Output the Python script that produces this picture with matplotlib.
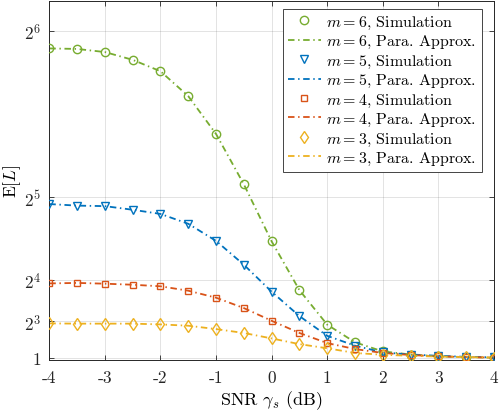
import matplotlib
matplotlib.use("Agg")
import matplotlib.pyplot as plt

plt.rcParams['font.family'] = 'serif'
plt.rcParams['font.serif'] = ['cmr10', 'DejaVu Serif']
plt.rcParams['mathtext.fontset'] = 'cm'
plt.rcParams['axes.unicode_minus'] = False
plt.rcParams['axes.formatter.use_mathtext'] = True

snr = [-4, -3.5, -3, -2.5, -2, -1.5, -1, -0.5, 0, 0.5, 1, 1.5, 2, 2.5, 3, 3.5, 4]

m6_sim = [60.6, 60.5, 59.9, 58.4, 56.2, 51.4, 44.1, 34.4, 23.4, 14.0, 7.35, 3.95, 2.2, 1.6, 1.25, 1.1, 1.0]
m6_apx = [60.6, 60.5, 59.9, 58.4, 56.2, 51.4, 44.1, 34.4, 23.4, 14.0, 7.35, 3.95, 2.2, 1.6, 1.25, 1.1, 1.0]
m5_sim = [30.6, 30.3, 30.2, 29.5, 28.7, 26.8, 23.5, 18.9, 13.7, 9.0, 5.2, 3.3, 2.0, 1.6, 1.35, 1.15, 1.05]
m5_apx = [30.6, 30.3, 30.2, 29.5, 28.7, 26.8, 23.5, 18.9, 13.7, 9.0, 5.2, 3.3, 2.0, 1.6, 1.35, 1.15, 1.05]
m4_sim = [15.3, 15.4, 15.25, 15.05, 14.75, 13.9, 12.55, 10.55, 8.1, 5.75, 3.8, 2.65, 1.9, 1.5, 1.25, 1.1, 1.0]
m4_apx = [15.3, 15.4, 15.25, 15.05, 14.75, 13.9, 12.55, 10.55, 8.1, 5.75, 3.8, 2.65, 1.9, 1.5, 1.25, 1.1, 1.0]
m3_sim = [7.6, 7.55, 7.55, 7.55, 7.4, 7.15, 6.5, 5.75, 4.7, 3.6, 2.8, 1.9, 1.55, 1.35, 1.2, 1.1, 1.0]
m3_apx = [7.6, 7.55, 7.55, 7.55, 7.4, 7.15, 6.5, 5.75, 4.7, 3.6, 2.8, 1.9, 1.55, 1.35, 1.2, 1.1, 1.0]

m_values = [6, 5, 4, 3]
colors = ['#77AC30', '#0072BD', '#D95319', '#EDB120']
markers = ['o', 'v', 's', 'd']
msizes = [6, 6, 4.2, 6]

x_ticks = [-4, -3, -2, -1, 0, 1, 2, 3, 4]
x_ticklabels = ['-4', '-3', '-2', '-1', '0', '1', '2', '3', '4']
y_ticks = [1, 8, 16, 32, 64]
y_ticklabels = ['1', r'$2^3$', r'$2^4$', r'$2^5$', r'$2^6$']

fig = plt.figure(figsize=(5, 4.14), dpi=100)
ax = fig.add_axes([0.0986, 0.128, 0.8894, 0.8679])

sims = [m6_sim, m5_sim, m4_sim, m3_sim]
apxs = [m6_apx, m5_apx, m4_apx, m3_apx]
for m, c, mk, ms, s, a in zip(m_values, colors, markers, msizes, sims, apxs):
    ax.plot(snr, s, linestyle='none', marker=mk, markersize=ms, markerfacecolor='none',
            markeredgecolor=c, markeredgewidth=1.0, label=rf'$m={m}$, Simulation', zorder=3)
    ax.plot(snr, a, color=c, linewidth=1.3, dashes=(3.6, 2.0, 0.8, 2.0),
            label=rf'$m={m}$, Para. Approx.', zorder=2)

ax.set_xlim(-4, 4)
ax.set_ylim(0.54, 69.8)
ax.set_xticks(x_ticks)
ax.set_xticklabels(x_ticklabels)
ax.set_yticks(y_ticks)
ax.set_yticklabels(y_ticklabels)
ax.tick_params(direction='in', top=True, right=True, length=3.5, width=0.6,
               colors='#262626', labelsize=12.5, pad=7)
ax.tick_params(axis='y', pad=6)
ax.grid(True, color='#262626', alpha=0.15, linewidth=0.6)
for sp in ax.spines.values():
    sp.set_color('#262626')
    sp.set_linewidth(0.7)

ax.set_xlabel(r'SNR $\gamma_s$ (dB)', fontsize=13, labelpad=2)
ax.set_ylabel(r'$\mathrm{E}[L]$', fontsize=12.5)
ax.yaxis.set_label_coords(-0.059, 0.5)

leg = ax.legend(loc='upper left', bbox_to_anchor=(0.525, 0.518, 0.447, 0.459),
                mode='expand', fontsize=11.5, frameon=True, fancybox=False,
                edgecolor='#262626', framealpha=1, handlelength=2.1,
                handletextpad=0.3, labelspacing=0.15, borderpad=0.3, borderaxespad=0)
leg.get_frame().set_linewidth(0.6)

fig.savefig('out.png', dpi=100)
